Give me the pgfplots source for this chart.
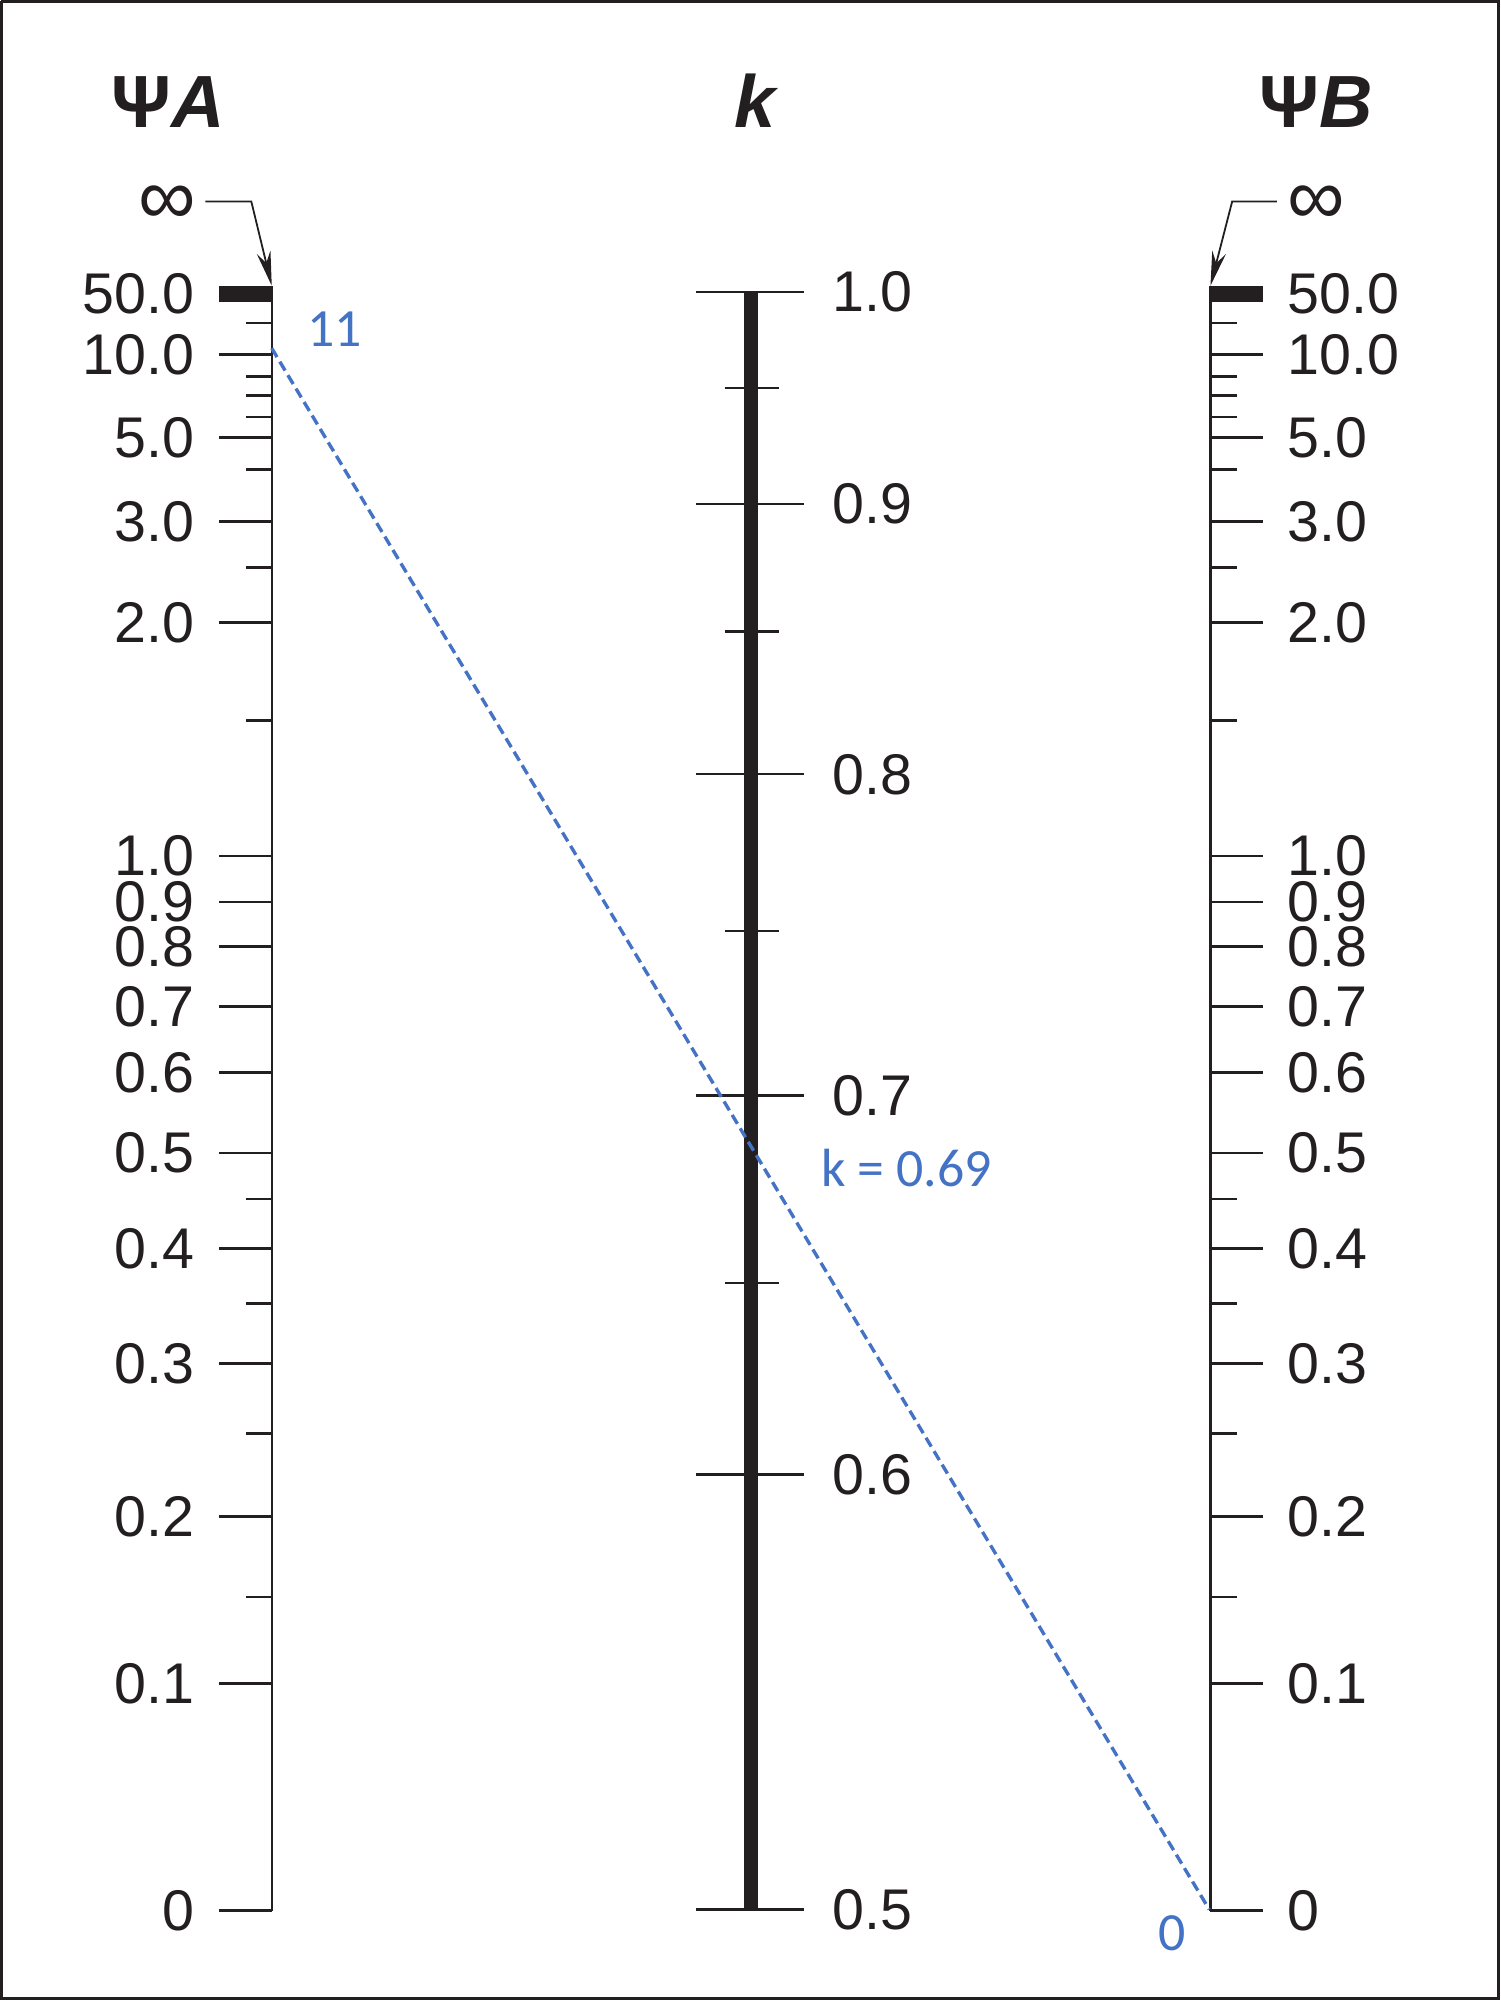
\documentclass[border=0pt]{standalone}
\usepackage{fontspec}
\setmainfont{Liberation Sans}
\newfontfamily\blufont{Carlito}
\usepackage{pgfplots}
\pgfplotsset{compat=1.18}
\usepackage{pgfplotstable}
\usetikzlibrary{arrows.meta}
\definecolor{ink}{RGB}{35,31,32}
\definecolor{mblue}{RGB}{68,114,196}

% Psi scale: position (y, drawing units) of each graduation
\pgfplotstableread{
y lab
230 50.0
278 10.0
343 5.0
409 3.0
488 2.0
671 1.0
707 0.9
742 0.8
789 0.7
841 0.6
904 0.5
979 0.4
1069 0.3
1189 0.2
1320 0.1
1498 0
}\psimajor
\pgfplotstableread{
y
253
295
310
327
368
445
565
940
1022
1124
1252
}\psiminor
% k scale
\pgfplotstableread{
y lab
229 1.0
395 0.9
607 0.8
859 0.7
1156 0.6
1497 0.5
}\kmajor
\pgfplotstableread{
y
304
495
730
1006
}\kminor

\newcommand\labfont{\fontsize{12.8}{15}\selectfont}
\newcommand\titfont{\fontsize{16.5}{18}\selectfont\bfseries}
\newcommand\blfont{\blufont\fontsize{12}{14}\selectfont}

\begin{document}
\begin{tikzpicture}
\begin{axis}[
  scale only axis, width=117.6mm, height=156.8mm,
  xmin=0, xmax=1176, ymin=0, ymax=1568, y dir=reverse,
  hide axis, clip=false,
]
% frame
\addplot[ink, line width=0.6pt, line join=miter] coordinates {(1,1)(1175,1)(1175,1567)(1,1567)(1,1)};

% ---- left Psi A scale
\addplot[ink, line width=0.5pt] coordinates {(213,224)(213,1498)};
\addplot[ink, line width=0.55pt, quiver={u=41,v=0}] table[x expr=172, y=y] {\psimajor};
\addplot[ink, line width=0.55pt, quiver={u=20,v=0}] table[x expr=193, y=y] {\psiminor};
\addplot[ink, line width=1.3mm] coordinates {(172,230.5)(213.5,230.5)};
\addplot[draw=none, nodes near coords, point meta=explicit symbolic,
  nodes near coords style={anchor=east, inner sep=0pt, font=\labfont, text=ink}]
  table[x expr=153, y=y, meta=lab] {\psimajor};
\addplot[ink, line width=0.4pt, -{Stealth[length=2.7mm,width=1.1mm]}] coordinates {(161,158)(197,158)(213,224)};

% ---- right Psi B scale
\addplot[ink, line width=0.5pt] coordinates {(949,224)(949,1498)};
\addplot[ink, line width=0.55pt, quiver={u=41,v=0}] table[x expr=949, y=y] {\psimajor};
\addplot[ink, line width=0.55pt, quiver={u=21,v=0}] table[x expr=949, y=y] {\psiminor};
\addplot[ink, line width=1.3mm] coordinates {(948.5,230.5)(990,230.5)};
\addplot[draw=none, nodes near coords, point meta=explicit symbolic,
  nodes near coords style={anchor=west, inner sep=0pt, font=\labfont, text=ink}]
  table[x expr=1009, y=y, meta=lab] {\psimajor};
\addplot[ink, line width=0.4pt, -{Stealth[length=2.7mm,width=1.1mm]}] coordinates {(1001,158)(966,158)(949,224)};

% ---- k scale
\addplot[ink, line width=1.1mm] coordinates {(589,228)(589,1497)};
\addplot[ink, line width=0.55pt, quiver={u=84,v=0}] table[x expr=546, y=y] {\kmajor};
\addplot[ink, line width=0.55pt, quiver={u=43,v=0}] table[x expr=568, y=y] {\kminor};
\addplot[draw=none, nodes near coords, point meta=explicit symbolic,
  nodes near coords style={anchor=west, inner sep=0pt, font=\labfont, text=ink}]
  table[x expr=652, y=y, meta=lab] {\kmajor};

% titles and infinity
\node[anchor=base, inner sep=0pt, text=ink, font=\titfont] at (axis cs:132,100) {Ψ\textit{A}};
\node[anchor=base, inner sep=0pt, text=ink, font=\titfont] at (axis cs:593,100) {\textit{k}};
\node[anchor=base, inner sep=0pt, text=ink, font=\titfont] at (axis cs:1032,100) {Ψ\textit{B}};
\node[inner sep=0pt, text=ink, font=\fontsize{18}{19}\selectfont] at (axis cs:131,161) {∞};
\node[inner sep=0pt, text=ink, font=\fontsize{18}{19}\selectfont] at (axis cs:1032,161) {∞};

% ---- example alignment line
\addplot[mblue, line width=0.75pt, dash pattern=on 2.3pt off 1.2pt] coordinates {(213,273)(948,1497)};
\node[anchor=base west, inner sep=0pt, text=mblue, font=\blfont] at (axis cs:240,272) {11};
\node[anchor=base west, inner sep=0pt, text=mblue, font=\blfont] at (axis cs:643,930) {k = 0.69};
\node[inner sep=0pt, text=mblue, font=\blfont] at (axis cs:919,1516) {0};
\end{axis}
\end{tikzpicture}
\end{document}
